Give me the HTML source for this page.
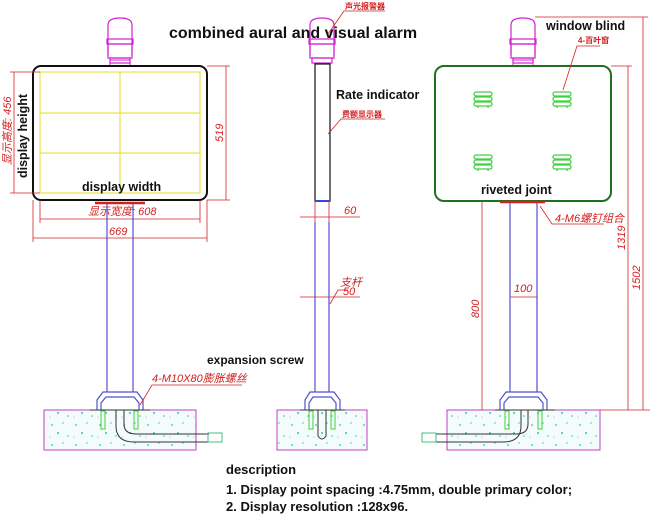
<!DOCTYPE html>
<html><head><meta charset="utf-8"><style>
html,body{margin:0;padding:0;background:#fff;width:650px;height:525px;overflow:hidden}
svg{display:block}
.t{font-family:"Liberation Sans","Noto Sans CJK SC",sans-serif;font-weight:bold;fill:#111}
.r{font-family:"Liberation Sans","Noto Sans CJK SC",sans-serif;font-style:italic;fill:#d42020;font-size:11px}
.rc{font-family:"Liberation Sans","Noto Sans CJK SC",sans-serif;fill:#d42020;font-size:8px;font-weight:bold}
</style></head><body>
<svg width="650" height="525" viewBox="0 0 650 525" xmlns="http://www.w3.org/2000/svg">
<defs>
<g id="beacon" fill="none" stroke="#d020d0" stroke-width="1.2">
<path d="M1,38 V8 Q1,1 13,1 Q25,1 25,8 V38"/>
<rect x="0" y="22" width="26" height="5"/>
<rect x="1" y="27" width="24" height="14"/>
<rect x="3" y="41" width="20" height="5"/>
</g>
<g id="louver" fill="none" stroke="#40d040" stroke-width="1.3">
<rect x="-9" y="-7" width="18" height="4" rx="2"/>
<rect x="-9" y="-2" width="18" height="4" rx="2"/>
<rect x="-9" y="3" width="18" height="4" rx="2"/>
<line x1="-5" y1="7" x2="-5" y2="9"/><line x1="5" y1="7" x2="5" y2="9"/>
</g>
<pattern id="conc" width="24" height="20" patternUnits="userSpaceOnUse">
<rect width="24" height="20" fill="#f4fbfb"/>
<circle cx="4" cy="5" r="0.9" fill="#20c8c8"/><circle cx="15" cy="3" r="0.7" fill="#20c8c8"/>
<circle cx="10" cy="13" r="1" fill="#20c8c8"/><circle cx="20" cy="16" r="0.8" fill="#20c8c8"/>
<circle cx="2" cy="17" r="0.6" fill="#90d0d0"/>
</pattern>
</defs>

<text class="t" x="169" y="38" font-size="16">combined aural and visual alarm</text>

<!-- LEFT VIEW -->
<use href="#beacon" x="107" y="17"/>
<rect x="110" y="60" width="20" height="6" fill="none" stroke="#d020d0"/>
<rect x="33" y="66" width="174" height="134" rx="8" fill="#fff" stroke="#111" stroke-width="2"/>
<g stroke="#e0e020" stroke-width="1" fill="none">
<rect x="40" y="72" width="160" height="121"/>
<line x1="120" y1="72" x2="120" y2="193"/>
<line x1="40" y1="113" x2="200" y2="113"/>
<line x1="40" y1="153" x2="200" y2="153"/>
</g>
<text class="t" x="82" y="191" font-size="12.5">display width</text>
<text class="t" font-size="12.5" transform="translate(27,178) rotate(-90)">display height</text>
<g stroke="#d42020" stroke-width="0.8" fill="none">
<line x1="14" y1="72" x2="14" y2="193"/><line x1="10" y1="72" x2="40" y2="72"/><line x1="10" y1="193" x2="40" y2="193"/>
<line x1="226" y1="66" x2="226" y2="200"/><line x1="207" y1="66" x2="230" y2="66"/><line x1="207" y1="200" x2="230" y2="200"/>
<line x1="40" y1="219" x2="200" y2="219"/><line x1="40" y1="200" x2="40" y2="223"/><line x1="200" y1="200" x2="200" y2="223"/>
<line x1="33" y1="238" x2="207" y2="238"/><line x1="33" y1="200" x2="33" y2="242"/><line x1="207" y1="200" x2="207" y2="242"/>
<line x1="95" y1="203" x2="145" y2="203" stroke-width="2.5"/>
</g>
<text class="r" transform="translate(11,165) rotate(-90)" font-size="10">显示高度: 456</text>
<text class="r" transform="translate(223,142) rotate(-90)">519</text>
<text class="r" x="88" y="215" font-size="10">显示宽度: 608</text>
<text class="r" x="109" y="235">669</text>
<g stroke="#5050d0" stroke-width="1.2" fill="none">
<line x1="107" y1="203" x2="107" y2="392"/><line x1="133" y1="203" x2="133" y2="392"/>
<path d="M97,410 V400 L103,392 H137 L143,400 V410"/><path d="M101,410 V403 L106,397 H134 L139,403 V410"/>
</g>
<rect x="44" y="410" width="152" height="40" fill="url(#conc)" stroke="#c040c0" stroke-width="1"/>
<line x1="90" y1="410" x2="150" y2="410" stroke="#333"/>
<path d="M116,410 V426 Q116,442 134,442 H209" fill="none" stroke="#333" stroke-width="1"/>
<path d="M124,410 V424 Q124,434 136,434 H209" fill="none" stroke="#333" stroke-width="1"/>
<rect x="208" y="433" width="14" height="9" fill="none" stroke="#40c080"/>
<rect x="101" y="411" width="4" height="18" fill="none" stroke="#40d040"/>
<rect x="134" y="411" width="4" height="18" fill="none" stroke="#40d040"/>
<text class="t" x="207" y="364" font-size="12">expansion screw</text>
<text class="r" x="152" y="382">4-M10X80膨胀螺丝</text>
<path d="M242,385 H152 L140,405" fill="none" stroke="#d42020" stroke-width="0.8"/>

<!-- MIDDLE VIEW -->
<use href="#beacon" x="309" y="17"/>
<rect x="315" y="64" width="15" height="137" fill="#fff" stroke="#111" stroke-width="1.2"/>
<line x1="315" y1="201" x2="330" y2="201" stroke="#4040e0" stroke-width="2"/>
<text class="rc" x="345" y="9">声光报警器</text>
<path d="M385,11 H344 L328,34" fill="none" stroke="#d42020" stroke-width="0.8"/>
<text class="t" x="336" y="99" font-size="12.5">Rate indicator</text>
<text class="rc" x="342" y="117">费额显示器</text>
<path d="M385,119 H341 L328,134" fill="none" stroke="#d42020" stroke-width="0.8"/>
<g stroke="#d42020" stroke-width="0.8" fill="none">
<line x1="315" y1="201" x2="315" y2="222"/><line x1="329" y1="201" x2="329" y2="222"/>
<line x1="300" y1="217" x2="360" y2="217"/>
<line x1="300" y1="297" x2="360" y2="297"/>
<path d="M330,304 L338,290 H348"/>
</g>
<text class="r" x="344" y="214">60</text>
<text class="r" x="340" y="286" font-size="10">支杆</text>
<text class="r" x="343" y="295" font-size="9">50</text>
<g stroke="#5050d0" stroke-width="1.2" fill="none">
<line x1="315" y1="222" x2="315" y2="392"/><line x1="329" y1="222" x2="329" y2="392"/>
<path d="M305,410 V400 L310,392 H334 L340,400 V410"/><path d="M309,410 V403 L313,397 H331 L336,403 V410"/>
</g>
<rect x="277" y="410" width="90" height="40" fill="url(#conc)" stroke="#c040c0"/>
<line x1="300" y1="410" x2="345" y2="410" stroke="#333"/>
<path d="M318,410 V436 Q322,442 326,436 V410" fill="none" stroke="#333"/>
<rect x="309" y="411" width="4" height="18" fill="none" stroke="#40d040"/>
<rect x="331" y="411" width="4" height="18" fill="none" stroke="#40d040"/>

<!-- RIGHT VIEW -->
<use href="#beacon" x="510" y="17"/>
<rect x="513" y="60" width="20" height="6" fill="none" stroke="#d020d0"/>
<rect x="435" y="66" width="176" height="135" rx="9" fill="#fff" stroke="#207020" stroke-width="2"/>
<use href="#louver" x="483" y="99"/><use href="#louver" x="562" y="99"/>
<use href="#louver" x="483" y="162"/><use href="#louver" x="562" y="162"/>
<text class="t" x="546" y="30" font-size="12.5">window blind</text>
<text class="rc" x="578" y="43">4-百叶窗</text>
<path d="M600,46 H577 L563,90" fill="none" stroke="#d42020" stroke-width="0.8"/>
<text class="t" x="481" y="194" font-size="12.5">riveted joint</text>
<line x1="500" y1="202" x2="545" y2="202" stroke="#d42020" stroke-width="2.5"/>
<text class="r" x="555" y="222" font-size="10">4-M6螺钉组合</text>
<path d="M604,224 H552 L540,206" fill="none" stroke="#d42020" stroke-width="0.8"/>
<g stroke="#5050d0" stroke-width="1.2" fill="none">
<line x1="510" y1="203" x2="510" y2="392"/><line x1="537" y1="203" x2="537" y2="392"/>
<path d="M500,410 V400 L506,392 H541 L547,400 V410"/><path d="M504,410 V403 L509,397 H538 L543,403 V410"/>
</g>
<rect x="447" y="410" width="153" height="40" fill="url(#conc)" stroke="#c040c0"/>
<line x1="495" y1="410" x2="555" y2="410" stroke="#333"/>
<path d="M521,410 V426 Q521,442 503,442 H436" fill="none" stroke="#333"/>
<path d="M528,410 V424 Q528,434 516,434 H436" fill="none" stroke="#333"/>
<rect x="422" y="433" width="14" height="9" fill="none" stroke="#40c080"/>
<rect x="505" y="411" width="4" height="18" fill="none" stroke="#40d040"/>
<rect x="538" y="411" width="4" height="18" fill="none" stroke="#40d040"/>
<g stroke="#d42020" stroke-width="0.8" fill="none">
<line x1="482" y1="201" x2="482" y2="410"/>
<line x1="628" y1="66" x2="628" y2="410"/><line x1="611" y1="66" x2="632" y2="66"/>
<line x1="643" y1="17" x2="643" y2="410"/><line x1="535" y1="17" x2="648" y2="17"/>
<line x1="600" y1="410" x2="650" y2="410"/>
<line x1="510" y1="297" x2="537" y2="297"/>
</g>
<text class="r" transform="translate(479,318) rotate(-90)">800</text>
<text class="r" transform="translate(625,250) rotate(-90)">1319</text>
<text class="r" transform="translate(640,290) rotate(-90)">1502</text>
<text class="r" x="514" y="292">100</text>

<g class="t" font-size="13">
<text x="226" y="474">description</text>
<text x="226" y="494">1. Display point spacing :4.75mm, double primary color;</text>
<text x="226" y="511">2. Display resolution :128x96.</text>
</g>
</svg>
</body></html>
